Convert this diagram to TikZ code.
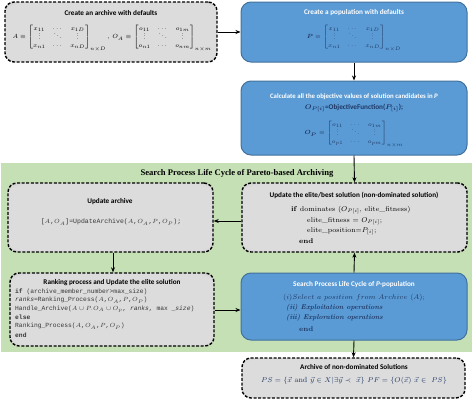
\documentclass[tikz,border=0pt]{standalone}
\usepackage{amsmath,amssymb}
\usepackage{fontspec}
\newfontfamily\hdfont{Carlito}
\newfontfamily\ttf{Liberation Mono}
\newfontfamily\serf{Liberation Serif}
\usetikzlibrary{arrows.meta}
\definecolor{gbin}{RGB}{220,220,220}
\definecolor{gbout}{RGB}{140,140,140}
\definecolor{bluefill}{RGB}{91,155,213}
\definecolor{blueedge}{RGB}{65,113,156}
\definecolor{bandgreen}{RGB}{197,224,180}
\definecolor{navy}{RGB}{31,56,100}
\definecolor{codegray}{RGB}{55,55,55}
\pgfdeclareradialshading{grayglow}{\pgfpoint{0bp}{0bp}}{color(0bp)=(gbin); color(32bp)=(gbin); color(50bp)=(gbout); color(75bp)=(gbout)}
\newcommand\svd{\vbox{\baselineskip2.4pt\lineskiplimit=-5pt\lineskip0pt\hbox{.}\hbox{.}\hbox{.}}}
\newcommand\sdd{\mathinner{\mkern1mu\raise4.8pt\hbox{.}\mkern2mu\raise2.9pt\hbox{.}\mkern2mu\raise1pt\hbox{.}\mkern1mu}}
\begin{document}
\begin{tikzpicture}[x=1pt,y=-1pt,
  graybox/.style={draw=black, line width=1.4pt, dash pattern=on 3pt off 1.6pt, rounded corners=9pt, shading=grayglow, inner sep=0pt},
  bluebox/.style={draw=blueedge, line width=1pt, fill=bluefill, rounded corners=10pt, inner sep=0pt},
  hd/.style={font=\hdfont\bfseries\fontsize{7.2}{8}\selectfont, inner sep=0pt},
  whd/.style={hd, text=white},
  code/.style={font=\ttf\fontsize{6.3}{7}\selectfont, text=codegray, inner sep=0pt, anchor=west},
  body/.style={font=\fontsize{7}{8}\selectfont, inner sep=0pt, anchor=west},
  mth/.style={font=\fontsize{6.5}{7.5}\selectfont, inner sep=0pt},
  arr/.style={-{Stealth[length=5pt,width=4pt]}, line width=0.9pt, black}]
\useasboundingbox (0,0) rectangle (474,402);
% green band
\fill[bandgreen] (1,163) rectangle (472,352);
\node[font=\serf\bfseries\fontsize{8.6}{10}\selectfont, inner sep=0pt] (title) at (237,173) {Search Process Life Cycle of Pareto-based Archiving};
% boxes
\node[graybox, minimum width=212pt, minimum height=60pt] (b1) at (111,32) {};
\node[bluebox, minimum width=226pt, minimum height=60pt] (b2) at (354,32) {};
\node[bluebox, minimum width=226pt, minimum height=74pt] (b3) at (354,118) {};
\node[graybox, minimum width=205pt, minimum height=69pt] (ua) at (110.5,217.5) {};
\node[graybox, minimum width=225pt, minimum height=69pt] (el) at (354.5,217.5) {};
\node[graybox, minimum width=204pt, minimum height=73pt] (rk) at (112,309.5) {};
\node[bluebox, minimum width=226pt, minimum height=67pt] (sp) at (354,306.5) {};
\node[graybox, minimum width=223pt, minimum height=40pt] (ar) at (353.5,378) {};
% box 1
\node[hd] (t1) at (111,13) {Create an archive with defaults};
{\renewcommand\arraystretch{1.12}\setlength\arraycolsep{3.5pt}
\node[mth] (m1) at (112,38) {$A\equiv\begin{bmatrix}x_{11}&\cdots&x_{1D}\\ \svd&\sdd&\svd\\ x_{n1}&\cdots&x_{nD}\end{bmatrix}_{n\times D},\,O_A\equiv\begin{bmatrix}o_{11}&\cdots&o_{1m}\\ \svd&\sdd&\svd\\ o_{n1}&\cdots&o_{nm}\end{bmatrix}_{n\times m}$};
\node[mth, text=navy] (m2) at (354,38) {$\boldsymbol{P}\equiv\begin{bmatrix}x_{11}&\cdots&x_{1D}\\ \svd&\sdd&\svd\\ x_{n1}&\cdots&x_{nD}\end{bmatrix}_{n\times D}$};
\node[mth, text=navy] (m3) at (354,134) {$\boldsymbol{O_P}\equiv\begin{bmatrix}o_{11}&\cdots&o_{1m}\\ \svd&\sdd&\svd\\ o_{p1}&\cdots&o_{pm}\end{bmatrix}_{n\times m}$};
}
% box 2
\node[whd] (t2) at (354,13) {Create a population with defaults};
% box 3
\node[whd, font=\hdfont\bfseries\fontsize{6.8}{8}\selectfont] (t3) at (354,97) {Calculate all the objective values of solution candidates in \textit{P}};
\node[hd, text=navy] (f3) at (354,108) {$\boldsymbol{O_{P[i]}}$=ObjectiveFunction($\boldsymbol{P_{[i]}}$);};
% update archive
\node[hd] (t4) at (110,202) {Update archive};
\node[code, anchor=center, font=\ttf\fontsize{6.5}{7}\selectfont] (c4) at (111,222) {[$A$,$O_A$]=UpdateArchive($A$,$O_A$,$P$,$O_P$);};
% elite
\node[hd] (t5) at (354,195) {Update the elite/best solution (non-dominated solution)};
\node[body] (e1) at (291,210) {\textbf{if} dominates ($O_{P[i]}$, elite\_fitness)};
\node[body] (e2) at (307,221) {elite\_fitness = $O_{P[i]}$;};
\node[body] (e3) at (307,231) {elite\_position=$P_{[i]}$;};
\node[body] (e4) at (299,241) {\textbf{end}};
% ranking
\node[hd] (t6) at (112,283) {Ranking process and Update the elite solution};
\node[code] (r1) at (15,291.7) {\textbf{if}  (archive\_member\_number>max\_size)};
\node[code] (r2) at (15,300.3) {\textit{ranks}=Ranking\_Process($A$,$O_A$,$P$,$O_P$)};
\node[code] (r3) at (15,309) {Handle\_Archive($A\cup P.O_A\cup O_p$, \textit{ranks}, max \_\textit{size})};
\node[code] (r4) at (15,317.7) {\textbf{else}};
\node[code] (r5) at (15,326.3) {Ranking\_Process($A$,$O_A$,$P$,$O_P$)};
\node[code] (r6) at (15,335) {\textbf{end}};
% search process
\node[whd] (t7) at (354,285) {Search Process Life Cycle of \textit{P}-population};
\node[body, text=navy] (s1) at (283,298) {$(i)Select\ a\ position\ from\ Archive\ (A)$;};
\node[body, text=navy] (s2) at (286,308) {\textbf{\textit{(ii) Exploitation operations}}};
\node[body, text=navy] (s3) at (286,318) {\textbf{\textit{(iii) Exploration operations}}};
\node[body, text=navy] (s4) at (299,329) {\textbf{end}};
% archive
\node[hd] (t8) at (354,367) {Archive of non-dominated Solutions};
\node[font=\fontsize{7.5}{9}\selectfont, inner sep=0pt, text=navy] (f8) at (354,381) {$PS=\{\vec{x}\text{ and }\vec{y}\in X|\exists\vec{y}\prec\ \vec{x}\}\ PF=\{O(\vec{x})\ \vec{x}\in\ PS\}$};
% connectors
\coordinate (ya) at (0,221);
\coordinate (yb) at (0,310);
\coordinate (xa) at (113,0);
\draw[arr] (b1.east) -- (b2.west);
\draw[arr] (b2.south) -- (b3.north);
\draw[arr] (b3.south) -- (el.north);
\draw[arr] (el.west |- ya) -- (ua.east |- ya);
\draw[arr] (xa |- ua.south) -- (xa |- rk.north);
\draw[arr] (rk.east |- yb) -- (sp.west |- yb);
\draw[arr] (sp.north) -- (el.south);
\draw[arr] (sp.south) -- (ar.north);
\end{tikzpicture}
\end{document}
